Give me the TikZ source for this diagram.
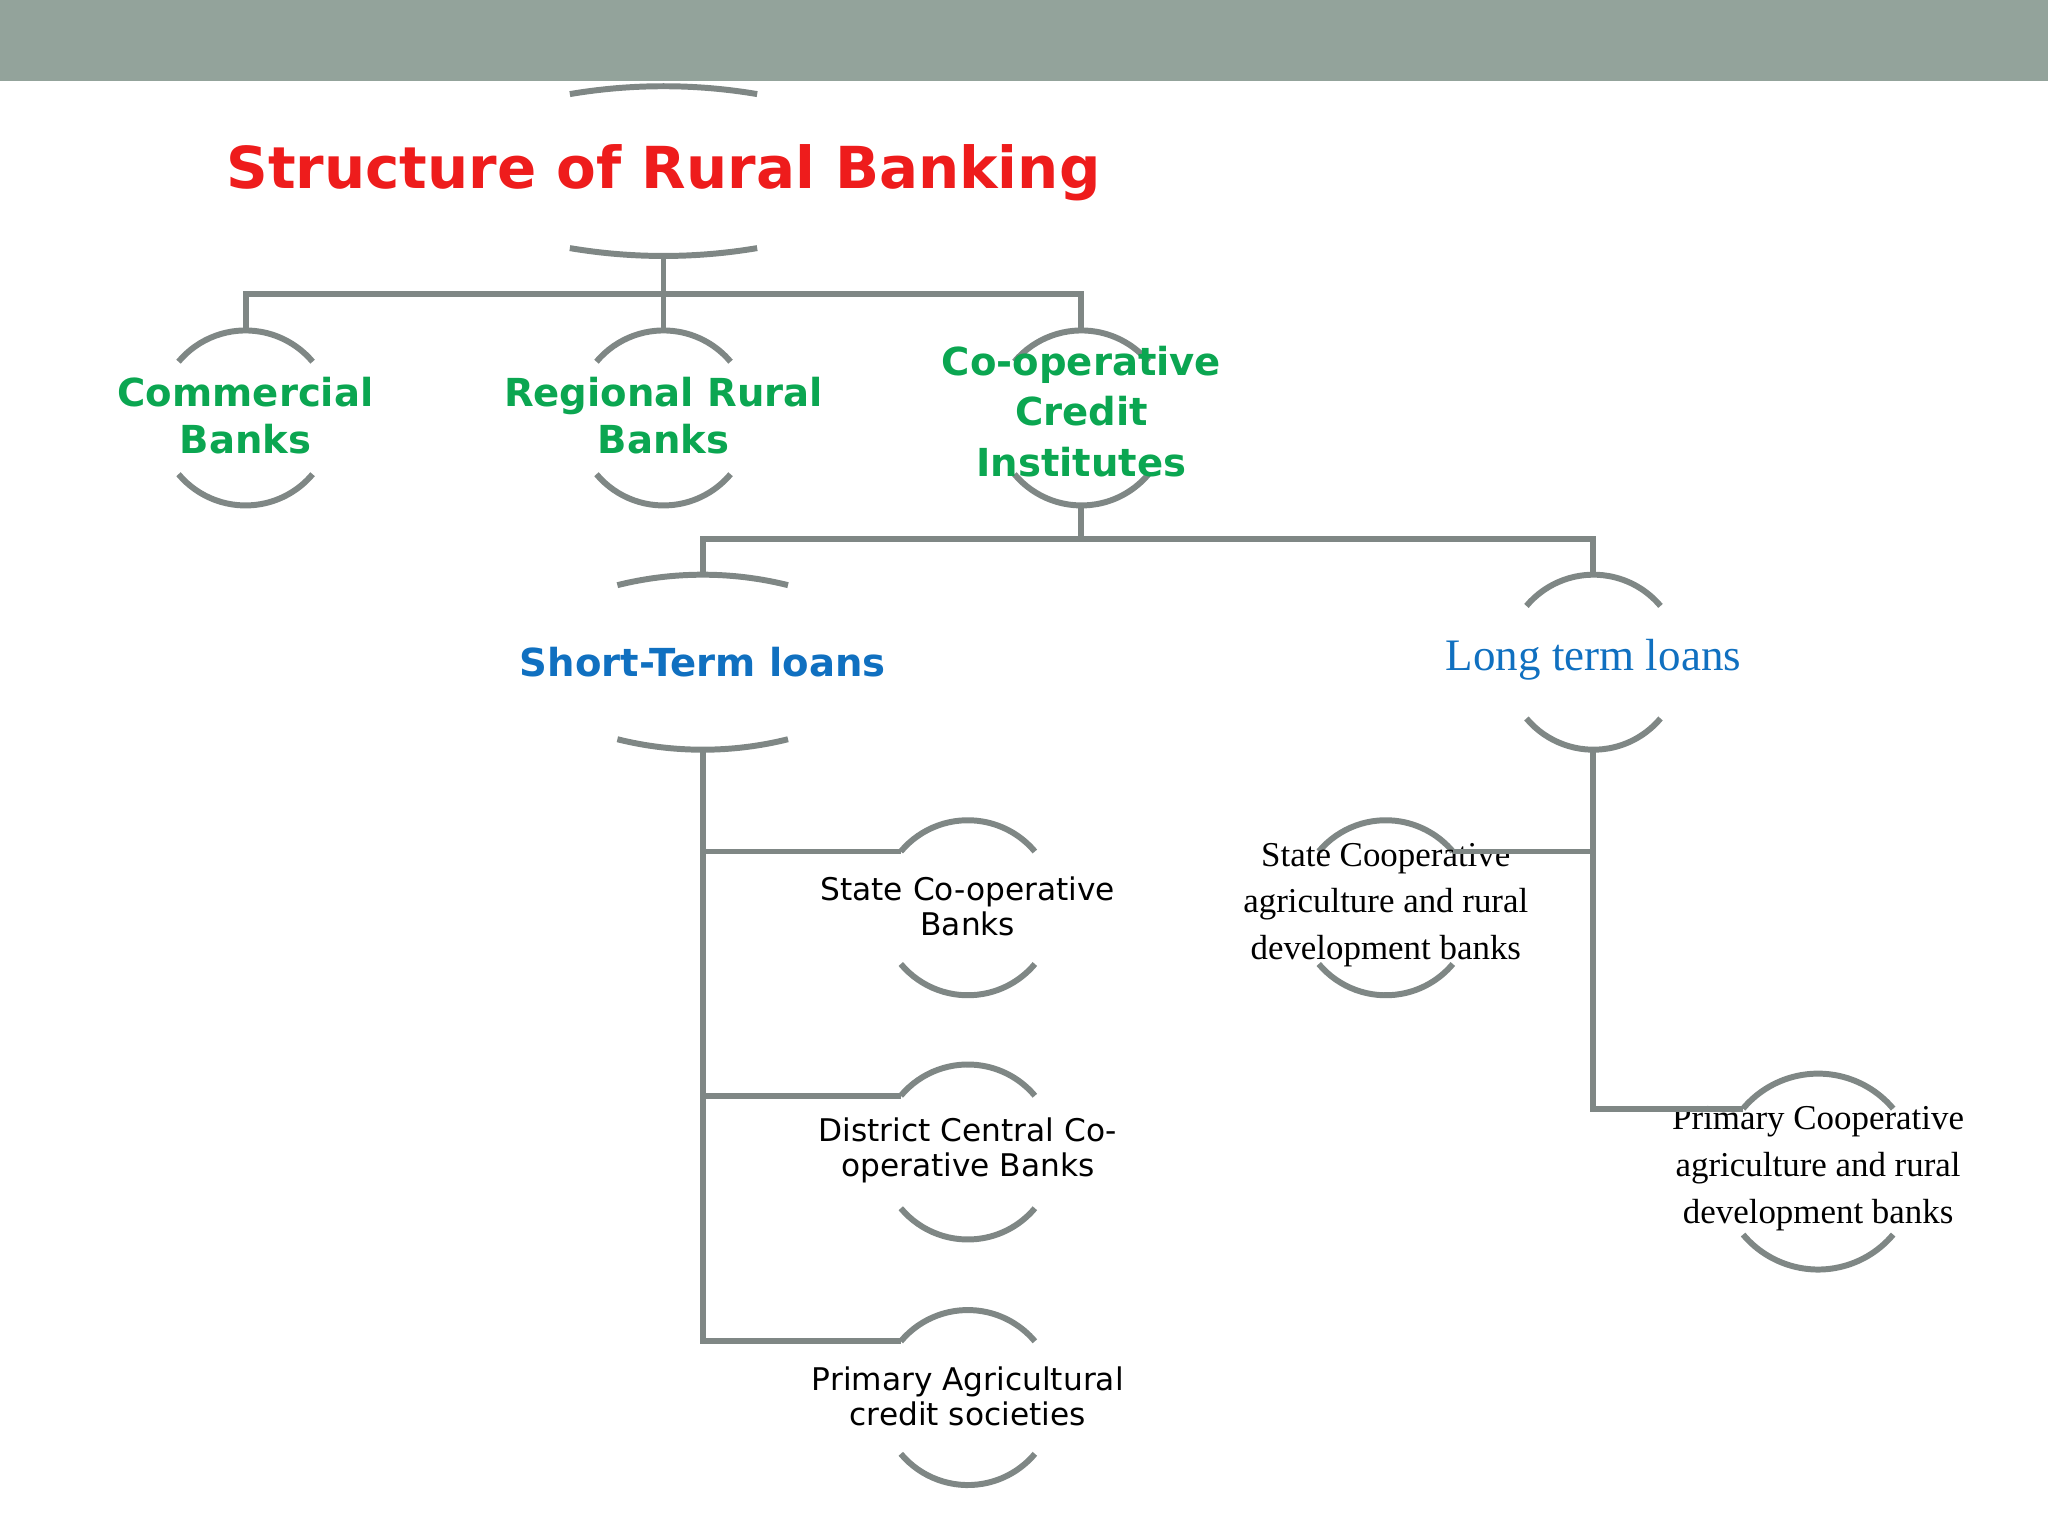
\documentclass[tikz,border=0pt]{standalone}
\usepackage{fontspec}
\setmainfont{DejaVu Sans}
\newfontfamily\serifface{Liberation Serif}
\usetikzlibrary{calc}
\definecolor{band}{HTML}{93A39B}
\definecolor{lineg}{HTML}{7F8785}
\definecolor{titlered}{HTML}{EE1C1C}
\definecolor{greent}{HTML}{0BA651}
\definecolor{bluet}{HTML}{1070C0}
% arcs above and below a node: center, half height, radius, half angle, name
\newcommand{\capsarcs}[5]{%
  \coordinate (#5-t) at ($(#1)+(0,#2)$);
  \coordinate (#5-b) at ($(#1)+(0,-#2)$);
  \coordinate (#5-ct) at ($(#5-t)+(0,-#3)$);
  \coordinate (#5-cb) at ($(#5-b)+(0,#3)$);
  \coordinate (#5-l) at ($(#5-ct)+(90+#4:#3)$);
  \coordinate (#5-r) at ($(#5-ct)+(90-#4:#3)$);
  \draw[capline] (#5-l) arc[start angle=90+#4, end angle=90-#4, radius=#3];
  \draw[capline] ($(#5-cb)+(-90-#4:#3)$) arc[start angle=-90-#4, end angle=-90+#4, radius=#3];}
\begin{document}
\begin{tikzpicture}[x=0.01cm,y=0.01cm,
  capline/.style={lineg, line width=1.3pt},
  conn/.style={lineg, line width=1.3pt},
  head/.style={font=\bfseries\fontsize{8.4}{10.2}\selectfont, text=greent, align=center},
  leaf/.style={font=\fontsize{6.8}{7.7}\selectfont, align=center},
  sleaf/.style={font=\serifface\fontsize{7.6}{10.2}\selectfont, align=center}]
  \useasboundingbox (0,0) rectangle (1568,-1176);
  \fill[band] (0,0) rectangle (1568,-62);
  \capsarcs{508,-131}{65}{430}{9.6}{title}
  \node[font=\bfseries\fontsize{12.6}{15}\selectfont, text=titlered] (title) at (508,-132) {Structure of Rural Banking};
  \capsarcs{188,-320}{67}{67}{50}{comm}
  \capsarcs{508,-320}{67}{67}{50}{rrb}
  \capsarcs{828,-320}{67}{67}{50}{coop}
  \node[head] (comm) at (188,-318) {Commercial\\Banks};
  \node[head] (rrb) at (508,-318) {Regional Rural\\Banks};
  \node[head, font=\bfseries\fontsize{8.4}{11}\selectfont] (coop) at (828,-315) {Co-operative\\Credit\\Institutes};
  \capsarcs{538,-507}{67}{270}{14}{short}
  \capsarcs{1220,-507}{67}{67}{50}{long}
  \node[font=\bfseries\fontsize{8.4}{10}\selectfont, text=bluet] (short) at (538,-507) {Short-Term loans};
  \node[font=\serifface\fontsize{9.8}{12}\selectfont, text=bluet] (long) at (1220,-505) {Long term loans};
  \capsarcs{741,-695}{67}{67}{50}{sco}
  \capsarcs{741,-882}{67}{67}{50}{dcc}
  \capsarcs{741,-1070}{67}{67}{50}{pac}
  \capsarcs{1061,-695}{67}{67}{50}{scard}
  \capsarcs{1392,-897}{75}{75}{50}{pcard}
  \node[leaf] (sco) at (741,-694) {State Co-operative\\Banks};
  \node[leaf] (dcc) at (741,-881) {District Central Co-\\operative Banks};
  \node[leaf] (pac) at (741,-1069) {Primary Agricultural\\credit societies};
  \node[sleaf] (scard) at (1061,-693) {State Cooperative\\agriculture and rural\\development banks};
  \node[sleaf] (pcard) at (1392,-895) {Primary Cooperative\\agriculture and rural\\development banks};
  % connectors
  \draw[conn] (title-b) -- ++(0,-29) -| (comm-t);
  \draw[conn] (title-b) ++(0,-29) -| (rrb-t);
  \draw[conn] (title-b) ++(0,-29) -| (coop-t);
  \draw[conn] (coop-b) -- ++(0,-26) -| (short-t);
  \draw[conn] (coop-b) ++(0,-26) -| (long-t);
  \draw[conn] (short-b) |- (pac-l);
  \draw[conn] (short-b |- sco-l) -- (sco-l);
  \draw[conn] (short-b |- dcc-l) -- (dcc-l);
  \draw[conn] (long-b) |- (pcard-l);
  \draw[conn] (long-b |- scard-r) -- (scard-r);
\end{tikzpicture}
\end{document}
